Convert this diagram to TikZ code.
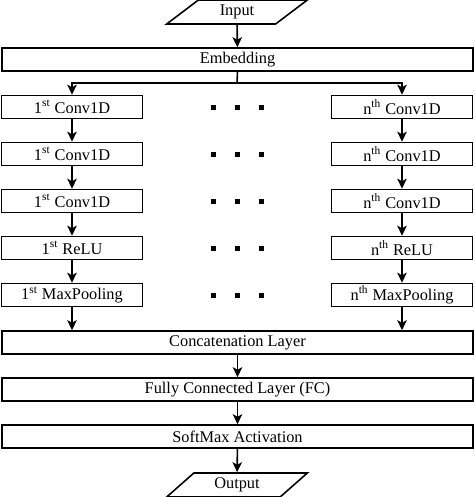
\documentclass[tikz,border=0pt]{standalone}
\usepackage{fontspec}
\setmainfont{Liberation Serif}
\usetikzlibrary{shapes.geometric,arrows.meta}

\begin{document}
\begin{tikzpicture}[x=0.02cm,y=-0.02cm,
  font=\fontsize{9.3}{11}\selectfont,
  wide/.style={draw,line width=0.9pt,minimum width=9.42cm,minimum height=0.46cm,inner sep=0pt},
  col/.style={draw,line width=0.9pt,minimum width=2.82cm,minimum height=0.46cm,inner sep=0pt},
  io/.style={draw,line width=0.9pt,trapezium,trapezium left angle=45,trapezium right angle=135,
    trapezium stretches=true,minimum width=2.82cm,minimum height=0.48cm,inner sep=0pt},
  arr/.style={line width=0.9pt,-{Stealth[length=2mm,width=1.9mm,inset=0.5mm]}}]
\useasboundingbox (0,0) rectangle (474,497);

% input and embedding
\node[io] (inp) at (237,12) {Input};
\node[wide] (emb) at (237.5,59.5) {Embedding};
\draw[arr] (inp) -- (emb);
\draw[line width=0.9pt] (emb.south) -- (237,83) coordinate (split);

% first branch
\node[col] (l1) at (72,107) {1\textsuperscript{st} Conv1D};
\node[col] (l2) at (72,154) {1\textsuperscript{st} Conv1D};
\node[col] (l3) at (72,201) {1\textsuperscript{st} Conv1D};
\node[col] (l4) at (72,248) {1\textsuperscript{st} ReLU};
\node[col] (l5) at (72,295) {1\textsuperscript{st} MaxPooling};

% n-th branch
\node[col] (r1) at (402,107) {n\textsuperscript{th} Conv1D};
\node[col] (r2) at (402,154) {n\textsuperscript{th} Conv1D};
\node[col] (r3) at (402,201) {n\textsuperscript{th} Conv1D};
\node[col] (r4) at (402,248) {n\textsuperscript{th} ReLU};
\node[col] (r5) at (402,295) {n\textsuperscript{th} MaxPooling};

% dots between the branches
\fill (213,107) +(-2.5,-2.5) rectangle +(2.5,2.5);
\fill (237,107) +(-2.5,-2.5) rectangle +(2.5,2.5);
\fill (261,107) +(-2.5,-2.5) rectangle +(2.5,2.5);
\fill (213,154) +(-2.5,-2.5) rectangle +(2.5,2.5);
\fill (237,154) +(-2.5,-2.5) rectangle +(2.5,2.5);
\fill (261,154) +(-2.5,-2.5) rectangle +(2.5,2.5);
\fill (213,201) +(-2.5,-2.5) rectangle +(2.5,2.5);
\fill (237,201) +(-2.5,-2.5) rectangle +(2.5,2.5);
\fill (261,201) +(-2.5,-2.5) rectangle +(2.5,2.5);
\fill (213,248) +(-2.5,-2.5) rectangle +(2.5,2.5);
\fill (237,248) +(-2.5,-2.5) rectangle +(2.5,2.5);
\fill (261,248) +(-2.5,-2.5) rectangle +(2.5,2.5);
\fill (213,295) +(-2.5,-2.5) rectangle +(2.5,2.5);
\fill (237,295) +(-2.5,-2.5) rectangle +(2.5,2.5);
\fill (261,295) +(-2.5,-2.5) rectangle +(2.5,2.5);

% output part
\node[wide] (cat) at (237.5,342.5) {Concatenation Layer};
\node[wide] (fc) at (237.5,389.5) {Fully Connected Layer (FC)};
\node[wide] (soft) at (237.5,436.5) {SoftMax Activation};
\node[io] (out) at (237,485) {Output};

% arrows
\draw[arr] (split) -| (l1.north);
\draw[arr] (split) -| (r1.north);
\draw[arr] (l1) -- (l2);
\draw[arr] (l2) -- (l3);
\draw[arr] (l3) -- (l4);
\draw[arr] (l4) -- (l5);
\draw[arr] (l5) -- (l5 |- cat.north);
\draw[arr] (r1) -- (r2);
\draw[arr] (r2) -- (r3);
\draw[arr] (r3) -- (r4);
\draw[arr] (r4) -- (r5);
\draw[arr] (r5) -- (r5 |- cat.north);
\draw[arr] (cat) -- (fc);
\draw[arr] (fc) -- (soft);
\draw[arr] (soft) -- (out);
\end{tikzpicture}
\end{document}
